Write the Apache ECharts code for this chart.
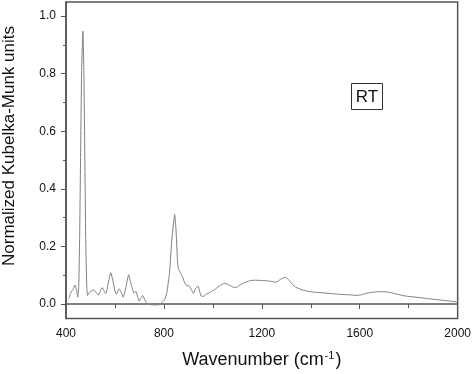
<!DOCTYPE html>
<html>
<head>
<meta charset="utf-8">
<script src="https://cdn.jsdelivr.net/npm/echarts@6/dist/echarts.min.js"></script>
<style>html,body{margin:0;padding:0;background:#fff}#c{width:474px;height:374px}</style>
</head>
<body>
<div id="c"></div>
<script>
var wavenumbers = [412,420,428,437,444,448,452,456,460,464,469,473,477,481,485,488,495,503,511,520,532,540,548,556,563,572,583,592,600,606,617,626,634,645,656,664,671,678,685,692,699,706,713,720,730,745,770,785,795,803,812,823,833,844,850,856,860,867,875,883,891,904,912,921,930,939,946,952,962,973,990,1010,1030,1047,1060,1080,1095,1108,1130,1150,1170,1200,1230,1258,1275,1290,1299,1312,1325,1340,1360,1380,1407,1450,1516,1560,1590,1610,1624,1650,1679,1713,1750,1787,1830,1869,1920,1960,2000];
var kmValues = [0.019,0.042,0.050,0.066,0.045,0.024,0.060,0.25,0.55,0.82,0.948,0.80,0.50,0.20,0.06,0.030,0.040,0.046,0.049,0.044,0.031,0.045,0.057,0.045,0.036,0.070,0.109,0.080,0.045,0.034,0.053,0.040,0.024,0.060,0.102,0.075,0.053,0.038,0.045,0.028,0.010,0.022,0.030,0.018,0.002,-0.002,-0.003,0.000,0.008,0.016,0.040,0.109,0.230,0.311,0.25,0.14,0.12,0.110,0.097,0.078,0.065,0.063,0.050,0.037,0.055,0.063,0.045,0.028,0.027,0.034,0.042,0.052,0.065,0.072,0.069,0.060,0.057,0.065,0.075,0.081,0.083,0.082,0.080,0.076,0.085,0.092,0.092,0.082,0.068,0.058,0.051,0.046,0.042,0.039,0.034,0.032,0.030,0.033,0.037,0.041,0.043,0.042,0.035,0.028,0.024,0.020,0.015,0.011,0.008];
var yTicks = [0, 0.2, 0.4, 0.6, 0.8, 1.0];
var yMinorTicks = [0.1, 0.3, 0.5, 0.7, 0.9];
var xTickStep = 400;
var xAxisName = 'Wavenumber (cm';
var yAxisName = 'Normalized Kubelka-Munk units';
var annotation = 'RT';

var chart = echarts.init(document.getElementById('c'), null, {renderer: 'canvas'});
var data = wavenumbers.map(function (w, i) { return [w, kmValues[i]]; });
var font = 'Liberation Sans, Arial, sans-serif';
var axisColor = '#555';
chart.setOption({
  animation: false,
  backgroundColor: '#fff',
  textStyle: {fontFamily: font},
  grid: {left: 66, right: 15, top: 2, bottom: 55, show: true, borderColor: axisColor, borderWidth: 1.5, containLabel: false},
  xAxis: {
    type: 'value', min: 400, max: 2000, interval: xTickStep,
    name: '{a|' + xAxisName + '}{s|-1}{a|)}',
    nameLocation: 'middle', nameGap: 32,
    nameTextStyle: {rich: {a: {fontSize: 18, color: '#111', fontFamily: font}, s: {fontSize: 11, color: '#111', fontFamily: font, verticalAlign: 'top', padding: [0, 1, 8, 1]}}},
    axisLine: {lineStyle: {color: axisColor, width: 1.5}},
    axisTick: {show: true, inside: false, length: 5, lineStyle: {color: axisColor, width: 1}},
    minorTick: {show: true, splitNumber: 2, length: 4, lineStyle: {color: axisColor, width: 1}},
    axisLabel: {color: '#111', fontSize: 12, margin: 9, fontFamily: font, formatter: function (v) { return String(v); }},
    splitLine: {show: false}
  },
  yAxis: [{
    type: 'value', min: -0.05, max: 1.049,
    axisLine: {show: true, lineStyle: {color: axisColor, width: 1.5}},
    axisTick: {show: true, inside: false, length: 5, customValues: yTicks, lineStyle: {color: axisColor, width: 1}},
    axisLabel: {color: '#111', fontSize: 12, margin: 10, fontFamily: font, customValues: yTicks, formatter: function (v) { return v.toFixed(1); }},
    splitLine: {show: false}
  }, {
    type: 'value', min: -0.05, max: 1.049, position: 'left',
    axisLine: {show: false},
    axisTick: {show: true, inside: false, length: 3, customValues: yMinorTicks, lineStyle: {color: axisColor, width: 1}},
    axisLabel: {show: false},
    splitLine: {show: false}
  }],
  series: [{
    type: 'line', data: data, xAxisIndex: 0, yAxisIndex: 0,
    showSymbol: false, smooth: 0.15,
    lineStyle: {color: '#808080', width: 1}
  }],
  graphic: [
    {type: 'text', x: 9, y: 146, rotation: Math.PI / 2,
     style: {text: yAxisName, font: '17px ' + font, fill: '#111', textAlign: 'center', textVerticalAlign: 'middle'}},
    {type: 'rect', shape: {x: 351.5, y: 83.5, width: 31, height: 26}, style: {fill: 'none', stroke: '#333', lineWidth: 1}},
    {type: 'text', x: 367, y: 97,
     style: {text: annotation, font: '17px ' + font, fill: '#111', textAlign: 'center', textVerticalAlign: 'middle'}}
  ]
});
</script>
</body>
</html>
